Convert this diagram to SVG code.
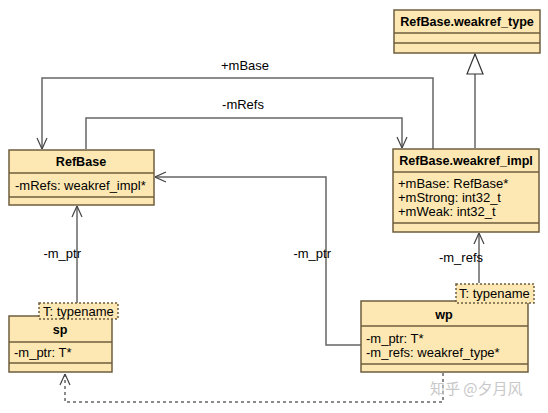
<svg xmlns="http://www.w3.org/2000/svg" width="548" height="413" viewBox="0 0 548 413">
<defs>
<style>
.box{fill:#FDE8B3;stroke:#6E5E3E;stroke-width:1.5}
.tpl{fill:#FDE8B3;stroke:#6E5E3E;stroke-width:1.5;stroke-dasharray:2,2}
.div{stroke:#6E5E3E;stroke-width:1.5}
.t{font-family:"Liberation Sans",Arial,sans-serif;font-size:13px;fill:#000}
.b{font-weight:bold;text-anchor:middle;font-size:12.6px}
.ln{fill:none;stroke:#666;stroke-width:1.5}
.dash{stroke-dasharray:3,3}
.wm{font-family:"Noto Sans CJK SC","Liberation Sans",sans-serif;font-size:15px;fill:#c8c8c8}
</style>
<marker id="open" viewBox="0 0 12 12" refX="12" refY="6" markerWidth="12" markerHeight="12" orient="auto" markerUnits="userSpaceOnUse">
<path d="M1,1 L12,6 L1,11" fill="none" stroke="#444" stroke-width="1.2"/>
</marker>
<marker id="tri" viewBox="0 0 22 18" refX="21" refY="9" markerWidth="22" markerHeight="18" orient="auto" markerUnits="userSpaceOnUse">
<path d="M1,1 L21,9 L1,17 Z" fill="#fff" stroke="#333" stroke-width="1.2"/>
</marker>
</defs>
<rect width="548" height="413" fill="#fff"/>
<g id="connectors">
<path class="ln" d="M433,149 V78 H42 V149" marker-end="url(#open)"/>
<path class="ln" d="M86,149 V118 H402 V148" marker-end="url(#open)"/>
<path class="ln" d="M475,148 V54" marker-end="url(#tri)"/>
<path class="ln" d="M361,345 H326 V177 H155" marker-end="url(#open)"/>
<path class="ln" d="M77,304 V206" marker-end="url(#open)"/>
<path class="ln" d="M479,283 V233" marker-end="url(#open)"/>
<path class="ln dash" d="M443,373 V402 H65 V374" marker-end="url(#open)"/>
<text class="t" x="245" y="70" text-anchor="middle">+mBase</text>
<text class="t" x="243" y="109" text-anchor="middle">-mRefs</text>
<text class="t" x="331" y="258" text-anchor="end">-m_ptr</text>
<text class="t" x="81" y="258" text-anchor="end">-m_ptr</text>
<text class="t" x="483" y="262" text-anchor="end">-m_refs</text>
</g>
<g id="weakref_type">
<rect class="box" x="394" y="10" width="146" height="43"/>
<line class="div" x1="394" y1="33" x2="540" y2="33"/>
<line class="div" x1="394" y1="43" x2="540" y2="43"/>
<text class="t b" x="467" y="26">RefBase.weakref_type</text>
</g>
<g id="RefBase">
<rect class="box" x="9" y="150" width="145" height="55"/>
<line class="div" x1="9" y1="173" x2="154" y2="173"/>
<line class="div" x1="9" y1="197" x2="154" y2="197"/>
<text class="t b" x="81" y="166">RefBase</text>
<text class="t" x="15" y="190">-mRefs: weakref_impl*</text>
</g>
<g id="weakref_impl">
<rect class="box" x="393" y="149" width="146" height="83"/>
<line class="div" x1="393" y1="172" x2="539" y2="172"/>
<line class="div" x1="393" y1="223" x2="539" y2="223"/>
<text class="t b" x="466" y="165">RefBase.weakref_impl</text>
<text class="t" x="398" y="188">+mBase: RefBase*</text>
<text class="t" x="398" y="202">+mStrong: int32_t</text>
<text class="t" x="398" y="216">+mWeak: int32_t</text>
</g>
<g id="sp">
<rect class="box" x="9" y="316" width="103" height="56"/>
<line class="div" x1="9" y1="342" x2="112" y2="342"/>
<line class="div" x1="9" y1="363" x2="112" y2="363"/>
<text class="t b" x="60" y="334">sp</text>
<text class="t" x="14" y="357">-m_ptr: T*</text>
<rect class="tpl" x="39" y="303" width="79" height="16"/>
<text class="t" x="43" y="316">T: typename</text>
</g>
<g id="wp">
<rect class="box" x="361" y="301" width="167" height="71"/>
<line class="div" x1="361" y1="326" x2="528" y2="326"/>
<line class="div" x1="361" y1="364" x2="528" y2="364"/>
<text class="t b" x="444" y="319">wp</text>
<text class="t" x="366" y="343">-m_ptr: T*</text>
<text class="t" x="366" y="357">-m_refs: weakref_type*</text>
<rect class="tpl" x="456" y="284" width="78" height="19"/>
<text class="t" x="459" y="298">T: typename</text>
</g>
<text class="wm" x="430" y="394">知乎 @夕月风</text>
</svg>
